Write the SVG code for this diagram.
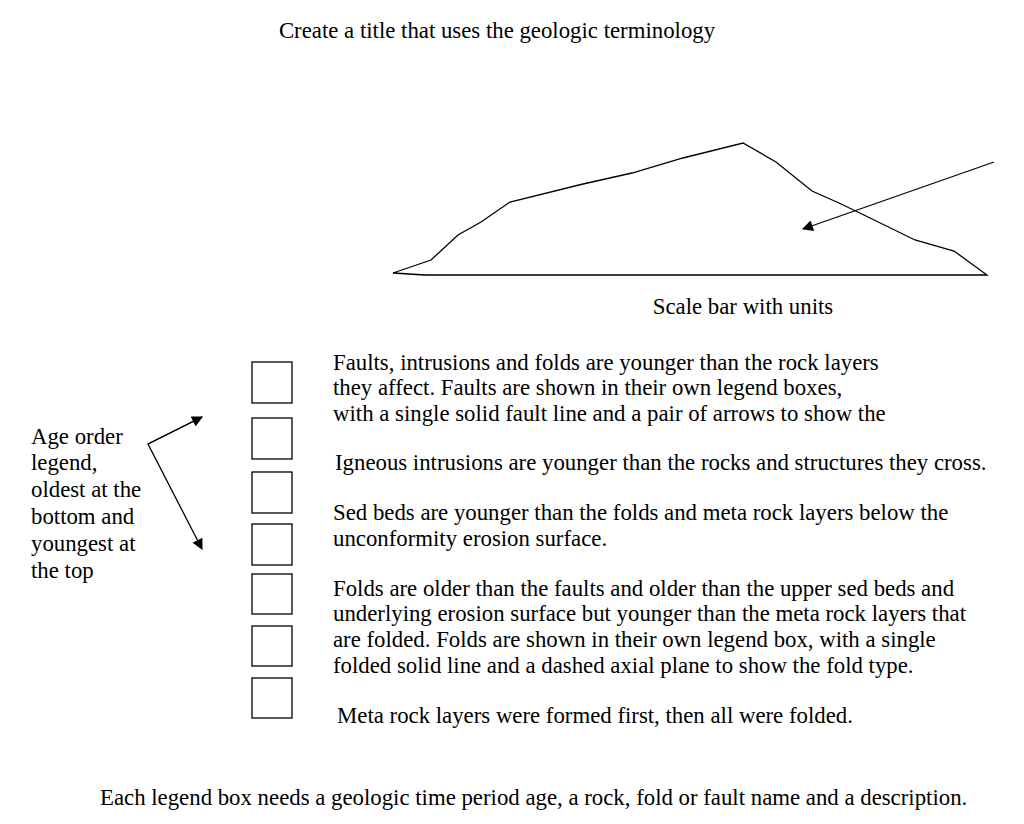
<svg xmlns="http://www.w3.org/2000/svg" width="1024" height="824" viewBox="0 0 1024 824">
<style>
text{font-family:"Liberation Serif","Times New Roman",serif;font-size:22.8px;fill:#000}
.ln{fill:none;stroke:#000;stroke-width:1.3}
.bx{fill:#fff;stroke:#000;stroke-width:1.3}
</style>
<defs>
<marker id="ah" viewBox="0 0 10 10" refX="9" refY="5" markerWidth="13" markerHeight="11" markerUnits="userSpaceOnUse" orient="auto"><path d="M0,0L10,5L0,10z" fill="#000"/></marker>
</defs>
<rect width="1024" height="824" fill="#fff"/>
<text x="497" y="38" text-anchor="middle">Create a title that uses the geologic terminology</text>
<g id="mountain"><polygon class="ln" points="393,273 431,260 458,235 481,222 510,202 583,184 632,173 683,158 743,143 776,162 812,191 839,203 866,216 915,240 954,251 987,275 425,275 393,273"/></g>
<text x="743" y="314" text-anchor="middle">Scale bar with units</text>
<g id="connectors">
<line class="ln" x1="994" y1="162" x2="803" y2="229" marker-end="url(#ah)"/>
<polyline class="ln" points="202,417 148,444 202,549" marker-end="url(#ah)"/>
<line class="ln" x1="148" y1="444" x2="202" y2="417" marker-end="url(#ah)"/>
</g>
<g id="age-label"><text x="31" y="444">Age order</text><text x="31" y="470">legend,</text><text x="31" y="497">oldest at the</text><text x="31" y="524">bottom and</text><text x="31" y="551">youngest at</text><text x="31" y="578">the top</text></g>
<g id="legend">
<rect class="bx" x="252" y="362" width="40" height="41"/>
<rect class="bx" x="252" y="418" width="40" height="41"/>
<rect class="bx" x="252" y="472" width="40" height="41"/>
<rect class="bx" x="252" y="524" width="40" height="41"/>
<rect class="bx" x="252" y="574" width="40" height="40"/>
<rect class="bx" x="252" y="626" width="40" height="40"/>
<rect class="bx" x="252" y="678" width="40" height="40"/>
</g>
<g id="notes">
<text x="333" y="370">Faults, intrusions and folds are younger than the rock layers</text>
<text x="333" y="395">they affect. Faults are shown in their own legend boxes,</text>
<text x="333" y="421">with a single solid fault line and a pair of arrows to show the</text>
<text x="335" y="470">Igneous intrusions are younger than the rocks and structures they cross.</text>
<text x="333" y="520">Sed beds are younger than the folds and meta rock layers below the</text>
<text x="333" y="546">unconformity erosion surface.</text>
<text x="333" y="596">Folds are older than the faults and older than the upper sed beds and</text>
<text x="333" y="621">underlying erosion surface but younger than the meta rock layers that</text>
<text x="333" y="647">are folded. Folds are shown in their own legend box, with a single</text>
<text x="333" y="673">folded solid line and a dashed axial plane to show the fold type.</text>
<text x="337" y="723">Meta rock layers were formed first, then all were folded.</text>
<text x="100" y="805">Each legend box needs a geologic time period age, a rock, fold or fault name and a description.</text>
</g>
</svg>
